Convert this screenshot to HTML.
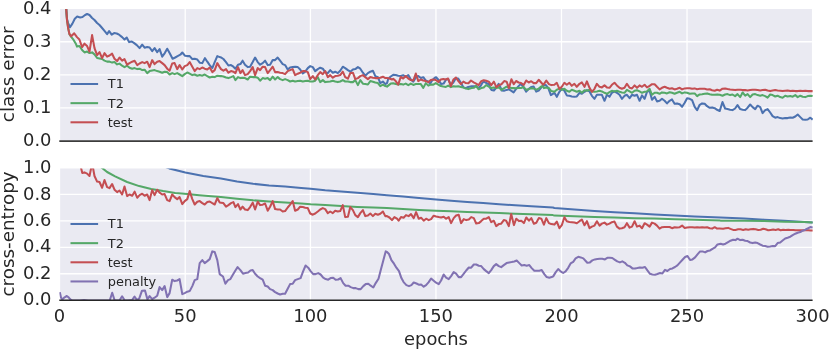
<!DOCTYPE html>
<html lang="en"><head><meta charset="utf-8"><title>training curves</title>
<style>html,body{margin:0;padding:0;background:#fff;}body{width:830px;height:349px;overflow:hidden;}svg{display:block;}text{font-family:"DejaVu Sans","Liberation Sans",sans-serif;fill:#262626;}.t{font-size:17.90px;}.l{font-size:12.90px;}.c{fill:none;stroke-width:2.05;stroke-linejoin:round;stroke-linecap:butt;}.g{stroke:#fff;stroke-width:1.30;stroke-linecap:butt;}.ax{stroke:#262626;stroke-width:1.67;stroke-linecap:butt;}</style>
</head><body>
<svg width="830" height="349" viewBox="0 0 830 349">
<rect x="0" y="0" width="830" height="349" fill="#fff"/>
<defs><clipPath id="ct"><rect x="59.40" y="9.00" width="753.50" height="132.10"/></clipPath><clipPath id="cb"><rect x="59.40" y="168.50" width="753.50" height="131.70"/></clipPath></defs>
<rect x="60.15" y="9.00" width="751.80" height="132.10" fill="#EAEAF2"/>
<g clip-path="url(#ct)">
<line class="g" x1="185.20" y1="9.00" x2="185.20" y2="141.10"/>
<line class="g" x1="310.42" y1="9.00" x2="310.42" y2="141.10"/>
<line class="g" x1="435.95" y1="9.00" x2="435.95" y2="141.10"/>
<line class="g" x1="561.48" y1="9.00" x2="561.48" y2="141.10"/>
<line class="g" x1="687.02" y1="9.00" x2="687.02" y2="141.10"/>
<line class="g" x1="60.15" y1="41.73" x2="811.95" y2="41.73"/>
<line class="g" x1="60.15" y1="74.85" x2="811.95" y2="74.85"/>
<line class="g" x1="60.15" y1="107.97" x2="811.95" y2="107.97"/>
</g>
<polyline class="c" clip-path="url(#ct)" stroke="#4C72B0" points="65.6,-0.0 67.0,19.0 68.0,23.0 70.0,27.2 72.4,23.6 74.8,18.8 77.2,16.6 80.1,17.4 82.5,17.0 85.1,15.0 87.1,14.0 89.5,15.0 92.1,18.0 94.5,20.0 97.1,23.0 99.5,25.0 102.1,28.0 104.7,31.1 107.1,34.1 109.1,31.1 111.7,34.7 114.1,33.1 116.7,33.5 119.1,34.7 122.1,37.1 124.5,39.5 126.7,37.5 129.1,42.1 131.8,41.5 134.2,43.1 136.8,45.1 139.6,48.1 142.2,44.7 144.6,47.7 147.2,47.1 149.6,47.5 152.2,51.1 154.6,48.1 157.2,52.1 159.6,49.1 162.2,56.7 164.8,53.1 167.2,48.7 169.6,53.1 172.6,58.7 175.2,57.5 177.6,56.1 180.3,54.7 182.3,52.5 184.9,55.7 187.3,56.1 189.7,56.1 192.3,59.1 194.7,58.7 197.3,59.5 199.7,62.7 202.3,63.1 204.9,58.1 207.3,61.7 209.7,65.1 212.3,68.1 214.7,62.1 217.3,56.1 219.7,57.1 221.0,57.4 223.4,59.0 226.0,62.1 228.4,65.5 231.0,65.1 233.4,66.7 235.4,68.7 238.0,64.7 240.4,64.1 242.6,60.7 245.0,64.7 247.7,67.1 250.1,66.7 252.7,62.1 255.1,57.6 257.7,62.1 260.1,64.7 262.7,63.1 265.1,60.7 267.7,65.1 270.1,64.7 272.7,60.1 275.1,60.1 277.7,57.6 280.1,60.7 282.7,64.1 285.1,65.1 287.7,69.5 290.1,67.5 292.7,67.1 295.1,66.7 297.8,67.1 300.2,69.5 302.8,73.5 305.2,71.7 307.8,68.1 310.2,66.1 312.8,67.1 315.2,71.1 317.8,69.1 320.2,67.7 322.8,68.7 325.2,72.1 327.8,73.1 330.2,70.1 332.8,72.7 335.2,71.7 337.8,73.1 340.2,70.7 342.8,66.7 345.2,68.1 347.9,70.1 350.3,71.7 352.9,69.5 355.3,69.1 357.9,67.1 360.3,68.7 362.9,72.7 365.3,75.7 367.9,73.1 370.3,71.7 372.9,70.7 375.3,76.1 377.9,77.1 380.3,83.1 382.9,81.5 385.3,84.1 387.0,83.1 388.2,79.0 390.7,76.5 393.2,74.8 395.7,75.0 398.2,75.8 400.7,76.0 403.2,75.2 405.7,76.8 408.3,75.0 410.8,79.5 413.3,81.6 415.8,77.5 418.3,76.0 420.8,78.0 423.3,77.2 425.8,80.5 428.3,81.6 430.1,83.6 432.1,80.5 434.6,78.0 436.1,77.2 438.6,80.0 441.1,84.1 443.6,83.6 446.1,79.5 448.1,79.0 450.7,84.6 453.2,82.6 455.7,78.5 458.2,78.5 460.7,82.6 463.2,87.1 465.7,88.1 468.2,86.9 471.6,86.3 474.6,86.3 476.1,86.5 478.6,88.0 480.4,86.3 482.5,82.7 484.0,81.7 486.1,83.0 488.8,84.2 490.3,88.1 491.5,89.9 493.9,90.5 496.3,87.5 498.7,83.9 500.5,87.5 501.7,90.5 504.0,90.8 506.6,89.9 509.0,89.3 511.4,90.8 513.6,92.3 516.1,88.9 518.6,86.1 520.6,84.1 523.2,86.6 526.2,91.6 528.7,89.1 531.2,86.9 533.7,86.6 536.2,91.6 538.7,90.6 541.2,87.6 543.0,85.6 545.9,85.1 548.3,88.1 550.9,95.1 554.4,92.8 556.8,96.8 559.4,91.8 561.8,88.8 564.4,90.8 566.8,95.4 569.4,95.8 571.8,96.4 574.4,96.8 576.8,96.4 579.5,92.8 581.9,93.8 584.5,91.8 586.9,90.2 589.5,91.4 591.9,95.8 594.5,98.8 596.9,94.8 599.5,94.8 601.9,94.8 604.5,100.8 606.9,94.8 609.5,96.8 611.9,92.8 614.5,91.4 616.9,92.8 619.5,94.8 621.9,98.8 624.5,95.8 626.9,94.8 629.6,98.2 632.0,94.8 634.6,95.8 637.0,94.8 639.6,100.8 642.0,95.4 644.6,98.8 647.0,91.8 649.6,90.8 652.0,99.8 654.6,96.8 657.0,101.4 659.6,100.8 662.0,98.8 664.6,100.8 667.0,103.4 669.6,100.8 672.0,99.4 674.6,103.8 677.0,103.4 679.7,104.2 682.1,106.8 684.7,102.8 687.1,98.2 689.7,98.8 692.1,100.2 694.7,106.8 697.1,110.2 699.7,104.8 702.1,103.4 704.7,103.8 707.1,106.2 709.7,107.8 712.1,107.4 714.7,108.2 717.1,109.8 719.7,111.0 722.5,102.1 725.1,108.5 727.5,109.1 730.1,109.7 732.5,110.1 735.1,108.5 737.5,105.1 740.2,109.1 742.6,109.7 745.2,110.1 747.6,107.7 750.2,104.5 752.6,107.1 755.2,109.1 757.6,105.7 760.2,107.1 762.6,113.1 765.2,110.1 767.6,109.1 770.2,112.5 772.6,116.1 775.2,117.7 777.6,117.1 780.2,118.1 782.6,118.5 785.2,118.1 787.6,118.1 790.3,117.5 792.7,117.7 795.3,116.5 797.7,114.5 800.3,117.1 802.7,119.5 805.3,119.7 807.7,119.5 810.3,117.7 812.7,119.7"/>
<polyline class="c" clip-path="url(#ct)" stroke="#55A868" points="65.6,-0.0 67.0,20.0 68.2,28.0 69.4,34.1 71.2,36.9 73.6,39.9 76.0,44.1 77.0,46.6 79.4,46.0 82.1,50.0 84.5,52.4 87.1,51.6 89.5,53.0 92.1,52.4 94.5,54.4 97.1,58.0 99.5,58.4 102.1,59.0 104.5,60.6 107.1,61.6 109.5,61.6 112.1,62.6 114.5,62.0 117.1,64.4 119.5,63.6 122.1,65.7 124.5,67.1 127.1,65.7 129.5,67.7 132.2,68.7 134.6,68.1 137.2,69.1 139.6,68.7 142.2,70.1 144.6,69.7 147.2,73.1 149.6,71.1 152.2,70.5 154.6,70.1 157.2,71.1 159.6,71.7 162.2,72.7 164.6,71.7 167.2,72.1 169.6,74.5 172.2,73.1 174.6,74.1 177.2,73.1 179.6,74.5 182.3,76.1 184.7,74.1 187.3,72.5 189.7,73.7 192.3,75.1 194.7,74.5 197.3,75.7 199.7,75.1 202.3,75.7 204.7,74.5 207.3,76.1 209.7,77.5 212.3,76.7 214.7,77.1 217.3,75.7 219.7,76.1 221.0,76.1 223.4,76.5 226.0,77.5 228.4,78.1 231.0,77.1 233.4,76.1 235.4,80.1 238.0,77.1 240.4,78.1 242.6,77.7 245.0,78.1 247.7,79.5 250.1,76.7 252.7,77.1 255.1,77.1 257.7,77.7 260.1,80.7 262.7,78.1 265.1,78.7 267.7,78.1 270.1,80.1 272.7,76.7 275.1,79.5 277.7,77.1 280.1,79.1 282.7,80.1 285.1,79.1 287.7,80.1 290.1,81.5 292.7,80.7 295.1,81.5 297.8,81.1 300.2,80.7 302.8,81.5 305.2,81.1 307.8,80.7 310.2,81.5 312.8,81.5 315.2,80.7 317.8,77.1 320.2,82.1 322.8,80.1 325.2,82.1 327.8,81.7 330.2,81.5 332.8,80.7 335.2,81.5 337.8,82.1 340.2,81.5 342.8,80.1 345.2,81.5 347.9,81.5 350.3,82.1 352.9,82.1 355.3,80.1 357.9,85.1 360.3,80.1 362.9,83.7 365.3,84.1 367.9,84.5 370.3,81.1 372.9,81.7 375.3,82.5 377.9,83.1 380.3,86.1 382.9,84.7 385.3,86.1 387.0,86.6 388.2,85.6 390.7,83.6 393.2,83.3 395.7,84.1 398.2,84.6 400.7,83.9 403.2,84.6 405.7,83.6 408.3,85.1 410.8,83.6 413.3,84.9 415.8,84.1 418.3,83.9 420.8,84.1 423.3,87.9 425.8,83.1 428.3,85.6 430.8,84.6 433.3,84.6 435.8,83.1 438.3,84.6 440.8,86.1 443.3,86.6 445.8,86.9 448.3,85.6 450.9,87.1 453.4,86.3 455.9,86.6 458.4,86.3 460.9,86.9 463.4,87.6 465.9,88.6 468.4,89.1 471.6,88.1 474.0,87.8 476.1,85.7 478.6,89.3 481.3,88.1 483.7,87.5 486.1,85.1 488.8,86.6 491.2,88.1 493.9,87.5 496.3,88.1 499.0,87.5 501.4,89.9 504.2,88.1 506.6,86.6 509.0,87.5 511.4,88.1 513.8,88.1 516.1,88.3 518.6,87.9 521.1,87.9 523.7,87.1 526.2,89.9 528.7,89.1 531.2,88.3 533.7,88.6 536.2,89.6 538.7,88.6 541.2,86.6 543.0,86.1 543.9,88.1 546.3,87.5 548.9,88.1 551.3,91.1 554.4,91.8 556.8,89.8 559.4,88.8 561.8,89.8 564.4,88.8 566.8,90.8 569.4,91.8 571.8,89.8 574.4,90.8 576.8,91.8 579.5,90.8 581.9,92.8 584.5,90.2 586.9,90.8 589.5,89.8 591.9,91.4 594.5,91.8 596.9,91.4 599.5,90.8 601.9,91.4 604.5,92.8 606.9,93.8 609.5,92.2 611.9,90.8 614.5,91.4 616.9,90.8 619.5,91.8 621.9,92.4 624.5,92.8 626.9,89.8 629.6,91.4 632.0,92.8 634.6,90.8 637.0,90.2 639.6,91.4 642.0,92.8 644.6,91.8 647.0,91.4 649.6,88.8 652.0,94.8 654.6,92.8 657.0,92.8 659.6,93.8 662.0,92.4 664.6,92.8 667.0,93.4 669.6,92.2 672.0,92.8 674.6,93.8 677.0,92.8 679.7,91.8 682.1,93.4 684.7,92.4 687.1,92.8 689.7,93.8 692.1,93.4 694.7,93.4 697.1,96.2 699.7,94.4 702.1,94.2 704.7,93.8 707.1,93.4 709.7,94.2 712.1,94.8 714.7,94.8 717.1,94.4 719.7,94.8 722.5,95.7 725.1,94.5 727.5,94.1 730.1,95.1 732.5,94.5 735.1,96.1 737.5,94.1 740.2,97.1 742.6,92.5 745.2,95.7 747.6,94.1 750.2,97.1 752.6,94.5 755.2,94.1 757.6,95.1 760.2,95.7 762.6,95.1 765.2,96.1 767.6,97.7 770.2,94.5 772.6,95.1 775.2,96.5 777.6,95.7 780.2,97.1 782.6,97.7 785.2,95.7 787.6,96.5 790.3,96.1 792.7,96.7 795.3,95.1 797.7,97.1 800.3,95.7 802.7,96.7 805.3,97.1 807.7,96.1 810.3,95.7 812.7,96.1"/>
<polyline class="c" clip-path="url(#ct)" stroke="#C44E52" points="65.6,-0.0 67.0,20.0 68.2,28.4 69.4,33.9 71.2,36.3 74.2,33.3 77.0,37.1 79.4,39.5 82.1,47.1 84.5,43.7 87.1,46.1 89.5,51.5 92.1,35.1 94.5,48.1 97.1,55.1 99.5,52.1 102.1,58.1 104.5,53.1 107.1,56.7 109.5,55.5 112.1,53.7 114.5,58.7 117.1,61.1 119.5,57.5 122.1,60.7 124.5,59.1 127.1,64.7 129.5,63.1 132.2,61.7 134.6,60.7 137.2,65.1 139.6,63.5 142.2,62.1 144.6,63.1 147.2,61.7 149.6,67.1 152.2,60.1 154.6,64.1 157.2,61.7 159.6,61.1 162.2,63.1 164.6,65.1 167.2,68.7 169.6,70.7 172.2,63.5 174.6,63.1 177.2,69.1 179.6,65.1 182.3,69.5 184.7,66.1 187.3,65.1 189.7,62.1 192.3,66.7 194.7,71.1 197.3,68.1 199.7,69.1 202.3,67.5 204.7,68.7 207.3,69.5 209.7,67.5 212.3,72.1 214.7,70.1 217.3,63.1 219.7,67.1 221.0,69.1 223.4,70.7 226.0,69.1 228.4,72.7 231.0,71.1 233.4,71.7 235.4,73.1 238.0,67.1 240.4,73.1 242.6,70.1 245.0,75.1 247.7,74.1 250.1,71.1 252.7,67.1 255.1,75.1 257.7,68.1 260.1,70.1 262.7,66.7 265.1,67.1 267.7,73.1 270.1,70.1 272.7,66.7 275.1,72.1 277.7,72.1 280.1,72.7 282.7,73.1 285.1,74.1 287.7,71.1 290.1,70.1 292.7,69.1 295.1,75.1 297.8,73.7 300.2,72.7 302.8,71.1 305.2,71.1 307.8,72.1 310.2,79.1 312.8,76.1 315.2,79.5 317.8,75.1 320.2,72.1 322.8,74.1 325.2,71.1 327.8,77.1 330.2,75.1 332.8,77.7 335.2,76.1 337.8,75.7 340.2,75.1 342.8,71.7 345.2,77.1 347.9,78.7 350.3,73.1 352.9,72.7 355.3,79.1 357.9,78.1 360.3,76.1 362.9,75.1 365.3,77.1 367.9,79.1 370.3,77.1 372.9,77.7 375.3,78.1 377.9,78.1 380.3,77.7 382.9,76.7 385.3,78.1 387.0,78.0 389.5,78.5 392.0,79.5 393.2,78.8 395.7,81.1 398.2,84.6 400.7,77.0 403.2,78.5 405.7,76.0 408.3,78.5 410.8,80.0 413.3,80.5 415.8,73.5 418.3,81.1 420.8,79.5 423.3,80.5 425.8,81.1 428.3,82.1 430.8,80.0 433.3,79.5 435.8,80.0 438.3,81.9 440.8,79.5 443.3,79.0 445.8,79.5 448.1,78.5 450.9,86.1 453.4,79.5 455.9,77.5 458.4,81.1 460.9,84.1 463.4,81.6 465.9,83.1 468.4,83.3 471.0,80.5 473.7,82.3 476.1,83.6 478.6,85.1 481.3,81.1 483.7,80.2 486.1,80.8 488.8,81.7 491.2,85.1 493.9,81.7 496.3,87.2 499.0,85.1 501.4,84.2 504.2,81.1 506.6,81.7 509.0,88.1 511.4,79.3 513.8,84.2 516.1,81.0 518.6,82.5 521.1,83.1 523.7,84.9 526.2,80.5 528.7,82.5 531.2,81.2 533.7,83.1 536.2,83.1 538.7,79.8 541.2,82.5 543.0,84.6 543.9,84.1 546.3,80.7 548.9,84.1 551.3,85.1 554.4,84.8 556.8,82.8 559.4,88.8 561.8,86.8 564.4,82.8 566.8,84.8 569.4,82.8 571.8,85.8 574.4,83.8 576.8,86.8 579.5,83.8 581.9,82.4 584.5,86.8 586.9,81.4 589.5,87.8 591.9,91.8 594.5,88.8 596.9,83.8 599.5,86.8 601.9,87.4 604.5,85.4 606.9,87.4 609.5,87.8 611.9,84.8 614.5,82.8 616.9,85.4 619.5,87.8 621.9,88.8 624.5,87.8 626.9,83.8 629.6,87.8 632.0,88.4 634.6,85.4 637.0,87.8 639.6,85.4 642.0,86.8 644.6,84.8 647.0,87.4 649.6,85.8 652.0,84.2 654.6,84.2 657.0,86.8 659.6,89.4 662.0,87.8 664.6,86.8 667.0,87.8 669.6,88.8 672.0,88.2 674.6,89.4 677.0,88.8 679.7,87.8 682.1,89.4 684.7,88.4 687.1,88.2 689.7,88.2 692.1,88.8 694.7,88.4 697.1,89.2 699.7,88.8 702.1,88.8 704.7,88.8 707.1,89.4 709.7,89.2 712.1,90.2 714.7,90.8 717.1,89.8 719.7,90.6 722.5,88.7 725.1,88.5 727.5,89.1 730.1,89.5 732.5,89.7 735.1,90.1 737.5,89.7 740.2,89.7 742.6,90.1 745.2,90.1 747.6,90.5 750.2,90.1 752.6,89.7 755.2,89.7 757.6,90.1 760.2,90.5 762.6,90.1 765.2,89.7 767.6,90.5 770.2,91.1 772.6,90.5 775.2,90.1 777.6,90.5 780.2,90.7 782.6,91.1 785.2,90.7 787.6,90.5 790.3,91.1 792.7,90.7 795.3,91.1 797.7,91.1 800.3,90.7 802.7,91.1 805.3,90.7 807.7,91.1 810.3,91.1 812.7,91.1"/>
<line class="ax" style="stroke:#3c3c3c" x1="59.30" y1="141.10" x2="812.60" y2="141.10"/>
<rect x="60.15" y="168.50" width="751.80" height="131.70" fill="#EAEAF2"/>
<g clip-path="url(#cb)">
<line class="g" x1="185.20" y1="168.50" x2="185.20" y2="300.20"/>
<line class="g" x1="310.42" y1="168.50" x2="310.42" y2="300.20"/>
<line class="g" x1="435.95" y1="168.50" x2="435.95" y2="300.20"/>
<line class="g" x1="561.48" y1="168.50" x2="561.48" y2="300.20"/>
<line class="g" x1="687.02" y1="168.50" x2="687.02" y2="300.20"/>
<line class="g" x1="60.15" y1="194.36" x2="811.95" y2="194.36"/>
<line class="g" x1="60.15" y1="220.82" x2="811.95" y2="220.82"/>
<line class="g" x1="60.15" y1="247.28" x2="811.95" y2="247.28"/>
<line class="g" x1="60.15" y1="273.74" x2="811.95" y2="273.74"/>
</g>
<polyline class="c" clip-path="url(#cb)" stroke="#4C72B0" points="163.2,166.0 169.2,168.4 185.3,172.4 203.3,176.0 220.9,178.6 237.0,181.4 253.1,183.8 269.1,185.4 285.1,186.6 301.2,188.0 310.6,188.8 325.2,190.3 341.2,191.5 357.3,192.7 373.3,193.9 386.9,195.3 403.0,196.6 419.1,198.0 436.1,199.4 451.1,200.7 467.2,201.9 483.2,203.1 499.2,204.3 515.3,205.3 531.3,206.3 552.9,207.5 554.4,207.9 574.4,209.5 594.5,211.0 614.5,212.2 634.6,213.2 654.6,214.4 674.6,215.4 694.7,216.4 720.3,217.6 744.2,218.5 764.2,219.7 784.2,220.7 804.3,221.9 812.7,222.5"/>
<polyline class="c" clip-path="url(#cb)" stroke="#55A868" points="98.1,165.0 102.7,168.4 107.1,172.0 115.1,176.4 127.1,182.0 139.2,186.1 151.2,188.9 163.2,191.1 175.2,192.9 187.3,194.1 199.3,195.3 211.3,196.3 220.9,197.1 237.0,198.7 253.1,200.3 269.1,201.5 285.1,202.5 301.2,203.5 310.6,204.3 325.2,205.1 341.2,206.1 357.3,206.9 373.3,207.5 386.9,208.1 403.0,209.1 419.1,209.9 436.1,210.7 451.1,211.3 467.2,211.9 483.2,212.5 499.2,213.1 515.3,213.7 531.3,214.3 552.9,215.1 554.4,215.6 574.4,216.2 594.5,217.0 614.5,217.6 634.6,218.2 654.6,218.6 674.6,219.2 694.7,219.8 720.3,220.6 744.2,220.7 764.2,221.1 784.2,221.7 804.3,222.1 812.7,222.5"/>
<polyline class="c" clip-path="url(#cb)" stroke="#C44E52" points="80.3,165.0 82.3,173.0 84.5,172.4 87.1,173.6 89.5,176.0 91.1,168.4 92.1,167.0 93.1,168.4 94.5,176.0 97.1,181.6 99.5,182.0 102.1,187.7 104.5,180.0 107.1,187.1 109.5,188.1 112.1,184.0 114.5,189.7 117.1,192.1 119.5,190.5 122.1,194.5 124.5,186.5 127.1,196.1 129.5,194.5 132.2,195.7 134.6,191.7 137.2,197.7 139.6,195.1 142.2,193.7 144.6,195.7 147.2,194.5 149.6,200.1 152.2,190.1 154.6,195.1 157.2,189.7 159.6,192.7 162.2,194.5 164.6,194.1 167.2,200.1 169.6,201.1 172.2,194.5 174.6,197.1 177.2,199.1 179.6,197.1 182.3,204.1 184.7,201.1 187.3,199.1 189.7,191.1 192.3,199.1 194.7,204.5 197.3,201.7 199.7,201.1 202.3,203.1 204.7,204.5 207.3,202.1 209.7,201.5 212.3,203.1 214.7,204.5 217.3,198.1 219.7,202.5 221.0,202.7 223.4,203.1 226.0,206.7 228.4,205.1 231.0,203.1 233.4,202.1 235.4,207.1 238.0,204.1 240.4,209.5 242.6,206.7 245.0,209.5 247.7,210.1 250.1,207.1 252.7,202.7 255.1,209.5 257.7,201.7 260.1,205.1 262.7,204.7 265.1,203.5 267.7,210.7 270.1,206.7 272.7,201.1 275.1,209.1 277.7,209.5 280.1,209.5 282.7,211.5 285.1,211.1 287.7,207.5 290.1,204.7 292.7,201.1 295.1,210.7 297.8,209.5 300.2,206.7 302.8,207.1 305.2,207.7 307.8,208.1 310.2,213.5 312.8,214.7 315.2,213.5 317.8,211.5 320.2,209.5 322.8,208.1 325.2,209.1 327.8,213.1 330.2,211.5 332.8,213.1 335.2,210.7 337.8,211.5 340.2,211.1 342.8,205.1 345.2,217.1 347.9,216.7 350.3,207.1 352.9,210.1 355.3,215.1 357.9,217.1 360.3,213.1 362.9,210.1 365.3,216.1 367.9,215.5 370.3,213.5 372.9,216.1 375.3,213.7 377.9,214.7 380.3,213.7 382.9,211.5 385.3,216.1 387.0,216.1 389.4,217.5 392.0,220.1 394.4,217.1 397.0,218.7 398.6,220.7 401.0,217.1 403.6,217.7 406.0,215.1 408.6,216.1 411.0,214.1 413.7,218.1 416.1,212.1 418.7,218.7 421.1,217.7 423.7,220.7 426.1,218.7 428.7,220.1 431.1,219.1 433.7,215.7 436.1,216.5 438.7,217.1 441.1,217.5 443.7,216.7 446.1,218.7 448.7,217.1 451.1,223.1 453.7,218.1 456.1,215.5 458.7,214.7 461.1,223.1 463.8,219.1 466.2,220.1 468.8,219.5 471.2,217.1 473.8,218.1 476.2,223.5 478.8,223.1 481.2,221.1 483.8,218.7 486.2,218.7 488.8,217.1 491.2,222.1 493.8,220.7 496.2,226.1 498.8,224.1 501.2,223.7 503.8,220.1 506.2,220.7 508.8,226.1 511.2,214.1 513.9,225.1 516.3,218.7 518.9,221.1 521.3,220.7 523.9,223.1 526.3,217.5 528.9,220.7 531.3,218.1 533.9,223.7 536.3,222.7 538.9,218.1 541.3,218.7 543.9,224.7 546.3,218.1 548.9,223.1 551.3,224.1 554.4,224.6 556.8,221.6 559.4,228.2 561.8,225.2 564.4,217.2 566.8,221.2 569.4,222.0 571.8,222.2 574.4,222.6 576.8,223.2 579.5,221.2 581.9,219.6 584.5,225.2 586.9,221.2 589.5,228.2 591.9,226.6 594.5,225.6 596.9,221.2 599.5,225.6 601.9,223.6 604.5,222.6 606.9,224.6 609.5,223.6 611.9,222.2 614.5,221.6 616.9,226.6 619.5,228.6 621.9,228.2 624.5,227.2 626.9,223.2 629.6,227.6 632.0,226.6 634.6,221.2 637.0,226.6 639.6,225.6 642.0,228.2 644.6,223.2 647.0,224.6 649.6,226.6 652.0,222.6 654.6,223.6 657.0,225.6 659.6,228.6 662.0,227.2 664.6,227.0 667.0,227.0 669.6,227.0 672.0,228.2 674.6,227.2 677.0,227.6 679.7,227.2 682.1,225.6 684.7,228.0 687.1,227.6 689.7,227.2 692.1,227.2 694.7,227.6 697.1,227.2 699.7,227.6 702.1,227.2 704.7,227.6 707.1,227.2 709.7,228.2 712.1,228.6 714.7,227.2 717.1,228.6 719.7,228.4 723.1,228.7 725.5,228.3 728.1,227.9 730.5,228.9 733.1,229.9 735.5,229.9 738.1,229.3 740.6,229.3 743.2,229.9 745.6,229.3 748.2,229.7 750.6,229.3 753.2,228.9 755.6,229.3 758.2,229.9 760.6,229.7 763.2,228.7 765.6,229.3 768.2,230.3 770.6,229.9 773.2,229.5 775.6,229.9 778.2,229.3 780.6,230.3 783.2,229.7 785.6,229.9 788.2,229.7 790.7,229.9 793.3,229.9 795.7,230.3 798.3,230.3 800.7,230.3 803.3,230.3 805.7,230.3 808.3,230.3 810.7,230.5 812.7,230.5"/>
<polyline class="c" clip-path="url(#cb)" stroke="#8172B2" points="59.8,292.1 61.0,297.5 62.2,299.6 64.6,297.3 66.8,296.0 68.6,297.3 70.3,299.3 72.0,300.4 80.0,300.6 84.0,300.0 88.0,300.6 107.3,300.6 109.8,300.2 112.2,292.7 114.6,300.2 117.0,300.6 119.6,300.2 122.1,296.3 124.6,300.2 128.0,300.6 132.1,300.0 134.5,296.7 136.9,299.9 139.2,298.7 142.0,290.7 145.0,290.5 147.4,299.3 149.6,296.1 152.2,299.1 154.6,297.7 157.2,295.7 159.6,287.1 162.2,290.1 164.6,286.1 167.2,297.1 169.6,293.1 172.2,279.7 174.6,281.1 177.2,280.5 179.6,279.1 182.3,294.1 184.7,293.1 187.3,291.7 189.7,291.1 192.3,286.1 194.7,280.1 197.3,279.1 199.7,263.1 202.3,260.1 204.7,263.1 207.3,261.1 209.7,259.1 212.3,251.4 214.7,252.0 217.3,260.1 219.7,274.1 221.0,275.1 223.0,276.5 225.4,283.7 228.0,280.1 230.4,279.1 233.0,274.5 235.4,270.5 237.6,267.1 240.4,270.1 243.0,273.7 245.4,273.1 248.1,272.5 250.5,270.5 252.7,270.1 255.1,273.7 257.7,276.5 260.1,278.1 262.7,279.7 265.1,285.7 267.7,286.5 270.1,289.1 272.7,290.1 275.1,292.1 277.7,293.5 280.1,294.5 282.7,293.7 285.1,293.7 287.7,288.7 290.1,284.1 292.7,283.7 295.1,280.1 297.8,279.1 300.6,278.1 303.2,271.1 305.6,265.5 308.2,267.7 310.6,271.1 313.2,274.1 315.6,274.1 318.2,273.1 320.6,274.5 323.2,277.7 325.6,279.1 328.2,279.7 330.6,278.1 333.2,277.7 335.6,279.7 338.2,279.5 340.6,278.1 343.2,283.1 345.6,285.7 348.3,285.7 350.7,287.1 353.3,288.1 355.7,288.1 358.3,289.1 360.7,289.1 363.3,286.1 365.7,284.1 368.3,283.7 370.7,285.7 373.3,287.5 375.7,283.1 378.5,278.7 380.7,270.3 383.3,260.5 385.7,251.4 387.0,252.0 389.0,254.0 391.4,260.1 394.0,263.7 396.4,267.7 399.0,271.1 401.4,278.1 403.6,282.1 406.4,285.1 409.0,286.1 411.4,285.1 413.7,282.5 416.5,283.5 418.7,284.7 421.1,284.5 423.7,286.7 426.1,285.1 428.7,282.1 431.1,278.5 433.7,280.7 436.1,282.7 438.7,284.1 441.1,280.5 443.7,274.5 446.1,277.7 448.7,279.1 451.1,276.1 453.7,272.1 456.1,273.7 458.7,277.1 461.1,277.1 463.8,273.7 466.2,270.5 468.8,267.5 471.2,267.7 473.8,264.5 476.2,264.5 478.8,265.7 481.2,266.1 483.8,269.1 486.2,271.1 488.8,273.1 491.2,270.1 493.8,266.1 496.2,264.1 498.8,266.1 501.2,267.1 503.8,265.1 506.6,263.1 509.2,262.5 511.6,262.1 514.3,261.5 516.7,260.5 519.3,263.1 521.7,265.5 524.3,265.1 526.7,265.7 529.3,265.1 531.7,268.1 534.3,270.7 536.7,270.7 539.3,270.7 541.7,270.1 544.3,274.1 546.7,277.1 549.3,277.7 551.7,277.1 553.2,276.4 555.6,272.4 558.2,269.0 560.6,271.4 563.2,273.0 565.6,271.4 568.2,267.8 570.6,263.4 573.2,261.8 575.6,258.4 578.3,256.8 580.7,257.4 583.3,258.4 585.7,261.0 587.3,262.8 589.9,262.4 592.3,260.4 594.9,259.4 597.3,259.0 599.9,258.8 602.3,258.8 604.9,259.4 607.3,257.8 609.9,257.8 612.3,258.0 614.9,259.8 617.3,261.4 619.9,262.4 622.3,261.4 624.9,262.8 627.3,265.4 630.0,266.4 632.4,268.4 635.0,268.4 637.4,268.0 640.0,267.4 642.4,267.8 645.0,267.0 647.4,270.4 650.0,273.8 652.4,274.4 655.0,274.8 657.4,274.0 660.0,273.0 662.4,273.4 665.0,269.8 667.4,271.0 670.0,269.0 672.4,268.4 675.0,267.0 677.4,265.4 680.1,262.4 682.5,259.8 685.1,257.0 687.5,256.0 690.1,260.0 692.5,259.4 695.1,257.4 697.5,254.4 700.1,251.4 702.5,251.4 705.1,252.4 707.5,251.0 710.1,250.4 712.5,248.8 715.1,247.4 717.5,244.4 720.7,243.7 723.1,244.5 725.5,243.7 728.1,242.1 730.5,240.7 733.1,239.7 735.5,240.1 737.5,238.7 740.2,240.1 742.6,239.7 745.2,240.7 747.6,241.1 750.2,242.5 752.6,243.1 755.2,242.5 757.6,243.1 760.2,244.5 762.6,245.7 765.2,246.1 767.6,246.7 770.2,246.5 772.6,246.1 775.2,246.1 777.6,243.1 780.2,242.5 782.6,240.5 785.2,238.5 787.6,237.7 790.3,236.7 792.7,235.1 795.3,233.7 797.7,232.7 800.3,232.1 802.7,230.7 805.3,229.7 807.7,228.5 810.3,227.1 812.7,227.5"/>
<line class="ax" style="stroke-width:1.5" x1="59.30" y1="300.25" x2="812.60" y2="300.25"/>
<text class="t" text-anchor="end" x="51.5" y="13.80">0.4</text>
<text class="t" text-anchor="end" x="51.5" y="46.93">0.3</text>
<text class="t" text-anchor="end" x="51.5" y="80.05">0.2</text>
<text class="t" text-anchor="end" x="51.5" y="113.17">0.1</text>
<text class="t" text-anchor="end" x="51.5" y="146.30">0.0</text>
<text class="t" text-anchor="end" x="51.5" y="173.10">1.0</text>
<text class="t" text-anchor="end" x="51.5" y="199.56">0.8</text>
<text class="t" text-anchor="end" x="51.5" y="226.02">0.6</text>
<text class="t" text-anchor="end" x="51.5" y="252.48">0.4</text>
<text class="t" text-anchor="end" x="51.5" y="278.94">0.2</text>
<text class="t" text-anchor="end" x="51.5" y="305.40">0.0</text>
<text class="t" text-anchor="middle" x="59.35" y="322.4">0</text>
<text class="t" text-anchor="middle" x="185.20" y="322.4">50</text>
<text class="t" text-anchor="middle" x="310.42" y="322.4">100</text>
<text class="t" text-anchor="middle" x="435.95" y="322.4">150</text>
<text class="t" text-anchor="middle" x="561.48" y="322.4">200</text>
<text class="t" text-anchor="middle" x="687.02" y="322.4">250</text>
<text class="t" text-anchor="middle" x="812.55" y="322.4">300</text>
<text class="t" text-anchor="middle" x="435.95" y="344.5">epochs</text>
<text class="t" style="font-size:18.35px" text-anchor="middle" transform="translate(13.7,74.25) rotate(-90)">class error</text>
<text class="t" style="font-size:18.35px" text-anchor="middle" transform="translate(13.7,233.90) rotate(-90)">cross-entropy</text>
<line x1="70.5" y1="84.00" x2="98.1" y2="84.00" stroke="#4C72B0" stroke-width="2.05"/>
<text class="l" x="107.8" y="88.45">T1</text>
<line x1="70.5" y1="103.15" x2="98.1" y2="103.15" stroke="#55A868" stroke-width="2.05"/>
<text class="l" x="107.8" y="107.60">T2</text>
<line x1="70.5" y1="122.30" x2="98.1" y2="122.30" stroke="#C44E52" stroke-width="2.05"/>
<text class="l" x="107.8" y="126.75">test</text>
<line x1="70.5" y1="224.00" x2="98.1" y2="224.00" stroke="#4C72B0" stroke-width="2.05"/>
<text class="l" x="107.8" y="228.45">T1</text>
<line x1="70.5" y1="243.15" x2="98.1" y2="243.15" stroke="#55A868" stroke-width="2.05"/>
<text class="l" x="107.8" y="247.60">T2</text>
<line x1="70.5" y1="262.30" x2="98.1" y2="262.30" stroke="#C44E52" stroke-width="2.05"/>
<text class="l" x="107.8" y="266.75">test</text>
<line x1="70.5" y1="281.45" x2="98.1" y2="281.45" stroke="#8172B2" stroke-width="2.05"/>
<text class="l" x="107.8" y="285.90">penalty</text>
</svg></body></html>
